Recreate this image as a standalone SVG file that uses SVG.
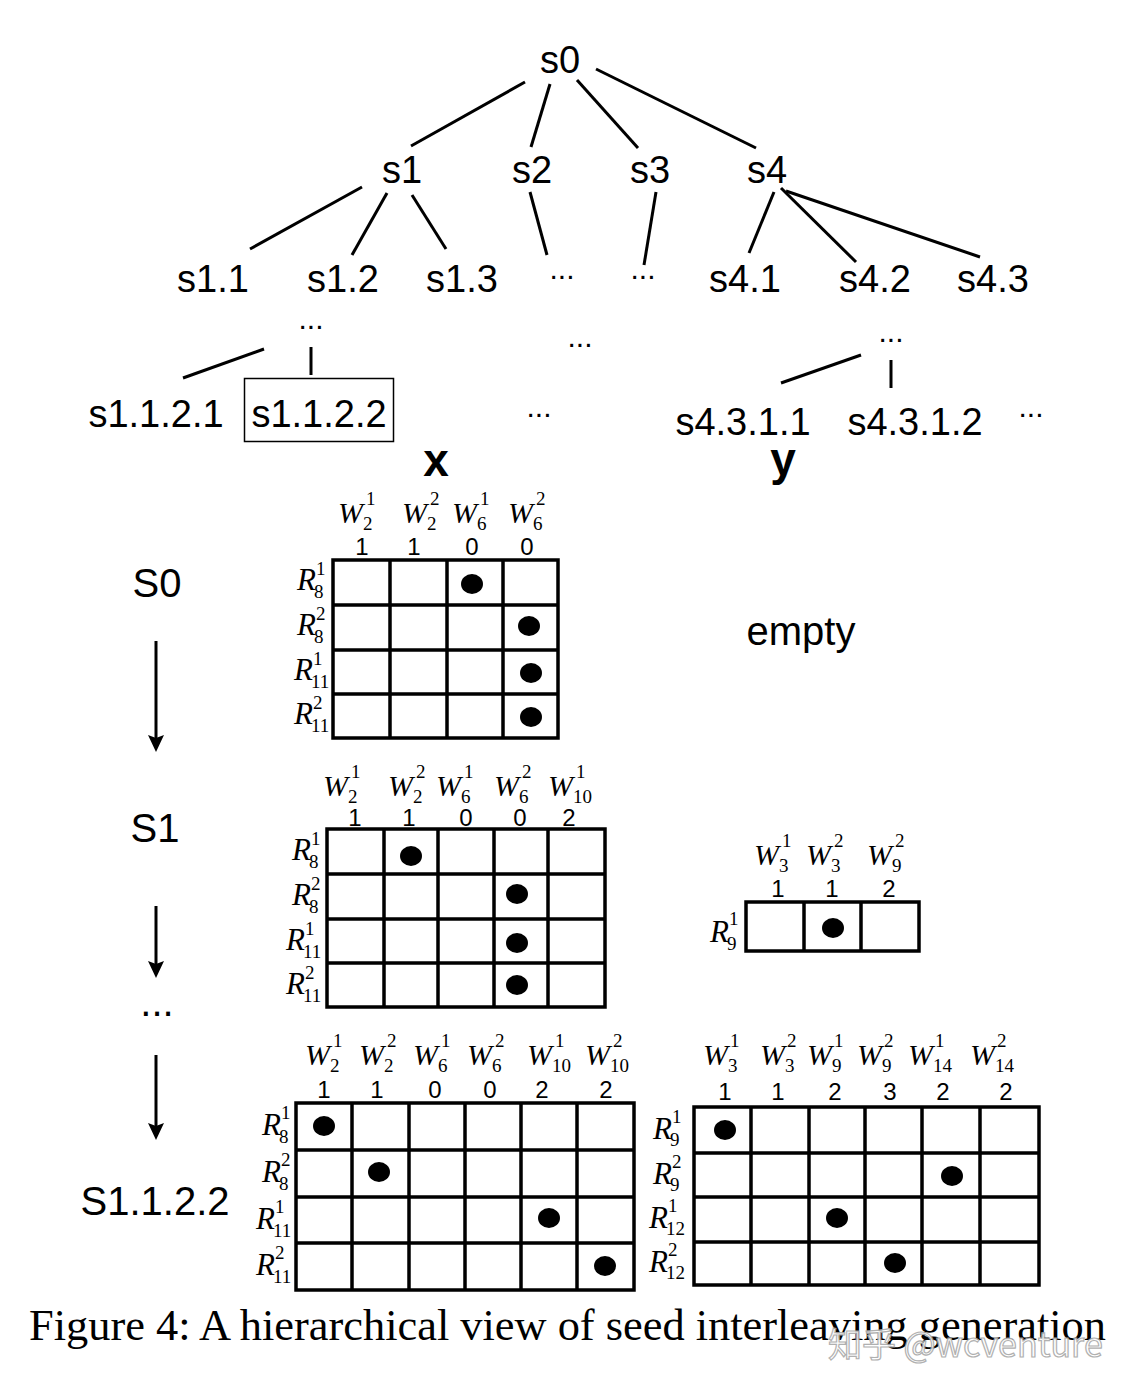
<svg xmlns="http://www.w3.org/2000/svg" width="1128" height="1390" viewBox="0 0 1128 1390">
<style>
.t{font-family:"Liberation Sans",Arial,sans-serif;font-size:38px;fill:#000;text-anchor:middle}
.dots{font-family:"Liberation Sans",Arial,sans-serif;font-size:30px;fill:#000;text-anchor:middle}
.lbl{font-family:"Liberation Sans",Arial,sans-serif;font-size:40px;fill:#000;text-anchor:middle}
.bold{font-family:"Liberation Sans",Arial,sans-serif;font-size:46px;font-weight:bold;fill:#000;text-anchor:middle}
.w{font-family:"Liberation Serif","Times New Roman",serif;font-style:italic;font-size:30px;fill:#000}
.re{font-family:"Liberation Serif","Times New Roman",serif;font-style:italic;font-size:31px;fill:#000;text-anchor:end}
.s{font-family:"Liberation Serif","Times New Roman",serif;font-size:19px;fill:#000}
.n{font-family:"Liberation Sans",Arial,sans-serif;font-size:24px;fill:#000;text-anchor:middle}
.edge{stroke:#000;stroke-width:3;fill:none}
.grid{stroke:#000;stroke-width:3.5;fill:#fff}
.gl{stroke:#000;stroke-width:3.5;fill:none}
.dot{fill:#000}
.cap{font-family:"Liberation Serif","Times New Roman",serif;font-size:44px;fill:#000}
.wm{font-family:"Noto Sans CJK SC","Liberation Sans",sans-serif;font-size:34px;fill:#fff;stroke:#a8a8a8;stroke-width:1.2;opacity:0.9}
</style>
<defs>
<marker id="ah" markerUnits="userSpaceOnUse" markerWidth="20" markerHeight="18" refX="4" refY="8" orient="auto">
<path d="M0,0 L17,8 L0,16 L3,8 Z" fill="#000"/>
</marker>
</defs>
<rect width="1128" height="1390" fill="#fff"/>

<g id="connectors">
<line class="edge" x1="525" y1="82" x2="411" y2="146"/>
<line class="edge" x1="550" y1="84" x2="531" y2="147"/>
<line class="edge" x1="577" y1="80" x2="638" y2="148"/>
<line class="edge" x1="596" y1="69" x2="756" y2="148"/>
<line class="edge" x1="362" y1="187" x2="250" y2="249"/>
<line class="edge" x1="387" y1="193" x2="352" y2="255"/>
<line class="edge" x1="412" y1="195" x2="446" y2="249"/>
<line class="edge" x1="530" y1="192" x2="547" y2="255"/>
<line class="edge" x1="656" y1="192" x2="644" y2="265"/>
<line class="edge" x1="774" y1="192" x2="749" y2="253"/>
<line class="edge" x1="781" y1="188" x2="856" y2="262"/>
<line class="edge" x1="786" y1="191" x2="980" y2="257"/>
<line class="edge" x1="264" y1="349" x2="183" y2="378"/>
<line class="edge" x1="311" y1="347" x2="311" y2="375"/>
<line class="edge" x1="861" y1="355" x2="781" y2="383"/>
<line class="edge" x1="891" y1="360" x2="891" y2="388"/>
<line class="edge" x1="156" y1="641" x2="156" y2="739" marker-end="url(#ah)"/>
<line class="edge" x1="156" y1="906" x2="156" y2="965" marker-end="url(#ah)"/>
<line class="edge" x1="156" y1="1055" x2="156" y2="1127" marker-end="url(#ah)"/>
</g>

<g id="tree">
<g id="n-s0"><text class="t" x="560" y="73">s0</text></g>
<g id="n-s1"><text class="t" x="402" y="183">s1</text></g>
<g id="n-s2"><text class="t" x="532" y="183">s2</text></g>
<g id="n-s3"><text class="t" x="650" y="183">s3</text></g>
<g id="n-s4"><text class="t" x="767" y="183">s4</text></g>
<g id="n-s1-1"><text class="t" x="213" y="292">s1.1</text></g>
<g id="n-s1-2"><text class="t" x="343" y="292">s1.2</text></g>
<g id="n-s1-3"><text class="t" x="462" y="292">s1.3</text></g>
<g id="n-d1"><text class="dots" x="562" y="279">...</text></g>
<g id="n-d2"><text class="dots" x="643" y="279">...</text></g>
<g id="n-s4-1"><text class="t" x="745" y="292">s4.1</text></g>
<g id="n-s4-2"><text class="t" x="875" y="292">s4.2</text></g>
<g id="n-s4-3"><text class="t" x="993" y="292">s4.3</text></g>
<g id="n-d3"><text class="dots" x="311" y="329">...</text></g>
<g id="n-d4"><text class="dots" x="580" y="347">...</text></g>
<g id="n-d5"><text class="dots" x="891" y="342">...</text></g>
<g id="n-s1-1-2-1"><text class="t" x="156" y="427">s1.1.2.1</text></g>
<g id="n-s1-1-2-2"><rect x="244.5" y="378.5" width="149" height="63" fill="none" stroke="#000" stroke-width="1.5"/><text class="t" x="319" y="427">s1.1.2.2</text></g>
<g id="n-d6"><text class="dots" x="539" y="417">...</text></g>
<g id="n-s4-3-1-1"><text class="t" x="743" y="435">s4.3.1.1</text></g>
<g id="n-s4-3-1-2"><text class="t" x="915" y="435">s4.3.1.2</text></g>
<g id="n-d7"><text class="dots" x="1031" y="417">...</text></g>
<g id="n-x"><text class="bold" x="436" y="476">x</text></g>
<g id="n-y"><text class="bold" x="783" y="475">y</text></g>
</g>

<g id="steps">
<g id="st-s0"><text class="lbl" x="157" y="597">S0</text></g>
<g id="st-s1"><text class="lbl" x="155" y="842">S1</text></g>
<g id="st-dots"><text class="lbl" x="157" y="1016">...</text></g>
<g id="st-s1122"><text class="lbl" x="155" y="1215">S1.1.2.2</text></g>
<g id="empty"><text class="lbl" x="801" y="645">empty</text></g>
</g>

<!-- Grid 1 -->
<g id="grid1">
<rect class="grid" x="333" y="560" width="225" height="178"/>
<path class="gl" d="M390,560V738M447,560V738M503,560V738M333,605H558M333,650H558M333,694H558"/>
<ellipse class="dot" cx="472" cy="584" rx="11" ry="10"/>
<ellipse class="dot" cx="529" cy="626" rx="11" ry="10"/>
<ellipse class="dot" cx="531" cy="673" rx="11" ry="10"/>
<ellipse class="dot" cx="531" cy="717" rx="11" ry="10"/>
<text class="w" x="338" y="523">W</text><text class="s" x="366" y="505">1</text><text class="s" x="363" y="530">2</text><text class="n" x="362" y="555">1</text>
<text class="w" x="402" y="523">W</text><text class="s" x="430" y="505">2</text><text class="s" x="427" y="530">2</text><text class="n" x="414" y="555">1</text>
<text class="w" x="452" y="523">W</text><text class="s" x="480" y="505">1</text><text class="s" x="477" y="530">6</text><text class="n" x="472" y="555">0</text>
<text class="w" x="508" y="523">W</text><text class="s" x="536" y="505">2</text><text class="s" x="533" y="530">6</text><text class="n" x="527" y="555">0</text>
<text class="re" x="316" y="590">R</text><text class="s" x="316" y="575">1</text><text class="s" x="314" y="598">8</text>
<text class="re" x="316" y="635">R</text><text class="s" x="316" y="620">2</text><text class="s" x="314" y="643">8</text>
<text class="re" x="313" y="680">R</text><text class="s" x="313" y="665">1</text><text class="s" x="311" y="688">11</text>
<text class="re" x="313" y="724">R</text><text class="s" x="313" y="709">2</text><text class="s" x="311" y="732">11</text>
</g>

<!-- Grid 2 -->
<g id="grid2">
<rect class="grid" x="327" y="829" width="278" height="178"/>
<path class="gl" d="M384,829V1007M438,829V1007M494,829V1007M548,829V1007M327,874H605M327,919H605M327,963H605"/>
<ellipse class="dot" cx="411" cy="856" rx="11" ry="10"/>
<ellipse class="dot" cx="517" cy="894" rx="11" ry="10"/>
<ellipse class="dot" cx="517" cy="943" rx="11" ry="10"/>
<ellipse class="dot" cx="517" cy="985" rx="11" ry="10"/>
<text class="w" x="323" y="796">W</text><text class="s" x="351" y="778">1</text><text class="s" x="348" y="803">2</text><text class="n" x="355" y="826">1</text>
<text class="w" x="388" y="796">W</text><text class="s" x="416" y="778">2</text><text class="s" x="413" y="803">2</text><text class="n" x="409" y="826">1</text>
<text class="w" x="436" y="796">W</text><text class="s" x="464" y="778">1</text><text class="s" x="461" y="803">6</text><text class="n" x="466" y="826">0</text>
<text class="w" x="494" y="796">W</text><text class="s" x="522" y="778">2</text><text class="s" x="519" y="803">6</text><text class="n" x="520" y="826">0</text>
<text class="w" x="548" y="796">W</text><text class="s" x="576" y="778">1</text><text class="s" x="573" y="803">10</text><text class="n" x="569" y="826">2</text>
<text class="re" x="311" y="860">R</text><text class="s" x="311" y="845">1</text><text class="s" x="309" y="868">8</text>
<text class="re" x="311" y="905">R</text><text class="s" x="311" y="890">2</text><text class="s" x="309" y="913">8</text>
<text class="re" x="305" y="950">R</text><text class="s" x="305" y="935">1</text><text class="s" x="303" y="958">11</text>
<text class="re" x="305" y="994">R</text><text class="s" x="305" y="979">2</text><text class="s" x="303" y="1002">11</text>
</g>

<!-- Grid 3 -->
<g id="grid3">
<rect class="grid" x="746" y="902" width="173" height="49"/>
<path class="gl" d="M804,902V951M861,902V951"/>
<ellipse class="dot" cx="833" cy="928" rx="11" ry="10"/>
<text class="w" x="754" y="865">W</text><text class="s" x="782" y="847">1</text><text class="s" x="779" y="872">3</text><text class="n" x="778" y="897">1</text>
<text class="w" x="806" y="865">W</text><text class="s" x="834" y="847">2</text><text class="s" x="831" y="872">3</text><text class="n" x="832" y="897">1</text>
<text class="w" x="867" y="865">W</text><text class="s" x="895" y="847">2</text><text class="s" x="892" y="872">9</text><text class="n" x="889" y="897">2</text>
<text class="re" x="729" y="942">R</text><text class="s" x="729" y="925">1</text><text class="s" x="727" y="950">9</text>
</g>

<!-- Grid 4 left -->
<g id="grid4">
<rect class="grid" x="296" y="1103" width="338" height="187"/>
<path class="gl" d="M352,1103V1290M409,1103V1290M465,1103V1290M521,1103V1290M577,1103V1290M296,1150H634M296,1197H634M296,1243H634"/>
<ellipse class="dot" cx="324" cy="1126" rx="11" ry="10"/>
<ellipse class="dot" cx="379" cy="1172" rx="11" ry="10"/>
<ellipse class="dot" cx="549" cy="1218" rx="11" ry="10"/>
<ellipse class="dot" cx="605" cy="1266" rx="11" ry="10"/>
<text class="w" x="305" y="1065">W</text><text class="s" x="333" y="1047">1</text><text class="s" x="330" y="1072">2</text><text class="n" x="324" y="1098">1</text>
<text class="w" x="359" y="1065">W</text><text class="s" x="387" y="1047">2</text><text class="s" x="384" y="1072">2</text><text class="n" x="377" y="1098">1</text>
<text class="w" x="413" y="1065">W</text><text class="s" x="441" y="1047">1</text><text class="s" x="438" y="1072">6</text><text class="n" x="435" y="1098">0</text>
<text class="w" x="467" y="1065">W</text><text class="s" x="495" y="1047">2</text><text class="s" x="492" y="1072">6</text><text class="n" x="490" y="1098">0</text>
<text class="w" x="527" y="1065">W</text><text class="s" x="555" y="1047">1</text><text class="s" x="552" y="1072">10</text><text class="n" x="542" y="1098">2</text>
<text class="w" x="585" y="1065">W</text><text class="s" x="613" y="1047">2</text><text class="s" x="610" y="1072">10</text><text class="n" x="606" y="1098">2</text>
<text class="re" x="281" y="1135">R</text><text class="s" x="281" y="1119">1</text><text class="s" x="279" y="1143">8</text>
<text class="re" x="281" y="1182">R</text><text class="s" x="281" y="1166">2</text><text class="s" x="279" y="1190">8</text>
<text class="re" x="275" y="1229">R</text><text class="s" x="275" y="1213">1</text><text class="s" x="273" y="1237">11</text>
<text class="re" x="275" y="1275">R</text><text class="s" x="275" y="1259">2</text><text class="s" x="273" y="1283">11</text>
</g>

<!-- Grid 4 right -->
<g id="grid5">
<rect class="grid" x="694" y="1107" width="345" height="178"/>
<path class="gl" d="M751,1107V1285M809,1107V1285M865,1107V1285M922,1107V1285M980,1107V1285M694,1153H1039M694,1197H1039M694,1242H1039"/>
<ellipse class="dot" cx="725" cy="1130" rx="11" ry="10"/>
<ellipse class="dot" cx="952" cy="1176" rx="11" ry="10"/>
<ellipse class="dot" cx="837" cy="1218" rx="11" ry="10"/>
<ellipse class="dot" cx="895" cy="1263" rx="11" ry="10"/>
<text class="w" x="703" y="1065">W</text><text class="s" x="730" y="1047">1</text><text class="s" x="728" y="1072">3</text><text class="n" x="725" y="1100">1</text>
<text class="w" x="760" y="1065">W</text><text class="s" x="787" y="1047">2</text><text class="s" x="785" y="1072">3</text><text class="n" x="778" y="1100">1</text>
<text class="w" x="807" y="1065">W</text><text class="s" x="834" y="1047">1</text><text class="s" x="832" y="1072">9</text><text class="n" x="835" y="1100">2</text>
<text class="w" x="857" y="1065">W</text><text class="s" x="884" y="1047">2</text><text class="s" x="882" y="1072">9</text><text class="n" x="890" y="1100">3</text>
<text class="w" x="908" y="1065">W</text><text class="s" x="935" y="1047">1</text><text class="s" x="933" y="1072">14</text><text class="n" x="943" y="1100">2</text>
<text class="w" x="970" y="1065">W</text><text class="s" x="997" y="1047">2</text><text class="s" x="995" y="1072">14</text><text class="n" x="1006" y="1100">2</text>
<text class="re" x="672" y="1139">R</text><text class="s" x="672" y="1123">1</text><text class="s" x="670" y="1146">9</text>
<text class="re" x="672" y="1184">R</text><text class="s" x="672" y="1168">2</text><text class="s" x="670" y="1191">9</text>
<text class="re" x="668" y="1228">R</text><text class="s" x="668" y="1212">1</text><text class="s" x="666" y="1235">12</text>
<text class="re" x="668" y="1272">R</text><text class="s" x="668" y="1256">2</text><text class="s" x="666" y="1279">12</text>
</g>

<g id="caption">
<text class="cap" x="29" y="1340" textLength="1077" lengthAdjust="spacingAndGlyphs">Figure 4: A hierarchical view of seed interleaving generation</text>
</g>
<g id="watermark">
<text class="wm" x="828" y="1357">知乎 @wcventure</text>
</g>
</svg>
